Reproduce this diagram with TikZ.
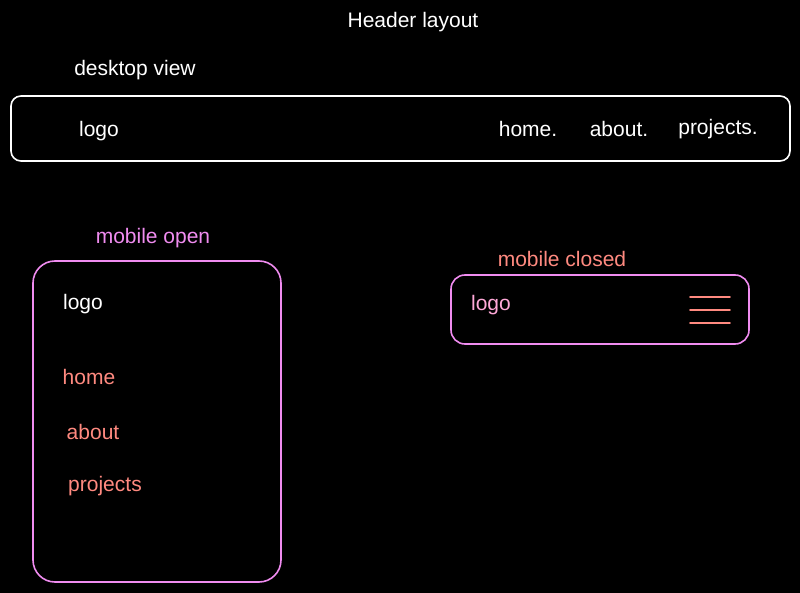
\documentclass[tikz,border=0pt]{standalone}
\usepackage{fontspec}
\setmainfont{Liberation Sans}
\definecolor{vio}{HTML}{F08CF0}
\definecolor{sal}{HTML}{FF8A80}
\definecolor{lpink}{HTML}{FFA8D8}
\begin{document}
\begin{tikzpicture}[x=1pt,y=-1pt,
  lbl/.style={font=\fontsize{21}{24}\selectfont, text=white},
  boxw/.style={draw=white, line width=1.6pt, rounded corners=10pt},
  boxv/.style={draw=vio, line width=1.6pt, rounded corners=14pt},
  ham/.style={draw=sal, line width=1.6pt, line cap=round}]
\fill[black] (0,0) rectangle (800,593);
\useasboundingbox (0,0) rectangle (800,593);
\node[lbl] (title) at (413,22) {Header layout};
\node[lbl] (dv) at (135,70) {desktop view};
\draw[boxw] (11,96) rectangle (790,161);
\node[lbl] (dlogo) at (99,131) {logo};
\node[lbl] (dhome) at (528,129) {home.};
\node[lbl] (dabout) at (619,129) {about.};
\node[lbl] (dproj) at (718,129) {projects.};
\node[lbl, text=vio] (mo) at (153,238) {mobile open};
\draw[boxv, rounded corners=22pt] (33,261) rectangle (281,582);
\node[lbl] (mlogo) at (83,304) {logo};
\node[lbl, text=sal] (mhome) at (89,377) {home};
\node[lbl, text=sal] (mabout) at (93,432) {about};
\node[lbl, text=sal] (mproj) at (105,486) {projects};
\node[lbl, text=sal] (mc) at (562,259) {mobile closed};
\draw[boxv] (451,275) rectangle (749,344);
\node[lbl, text=lpink] (clogo) at (491,305) {logo};
\coordinate (h1a) at (690,297); \coordinate (h1b) at (730,297);
\coordinate (h2a) at (690,310); \coordinate (h2b) at (730,310);
\coordinate (h3a) at (690,323); \coordinate (h3b) at (730,323);
\draw[ham] (h1a) -- (h1b);
\draw[ham] (h2a) -- (h2b);
\draw[ham] (h3a) -- (h3b);
\end{tikzpicture}
\end{document}
